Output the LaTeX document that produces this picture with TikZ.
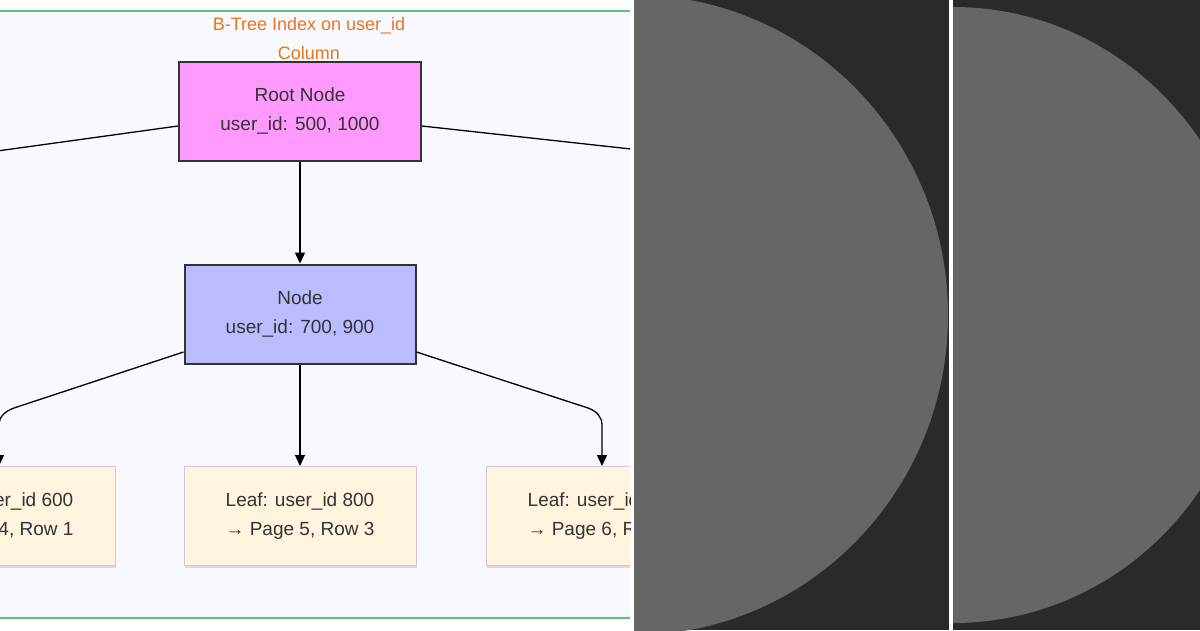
\documentclass[tikz,border=0pt]{standalone}
\usepackage{fontspec}
\setmainfont{Liberation Sans}
\usetikzlibrary{arrows.meta,shadows}
\definecolor{bgl}{HTML}{F8F9FE}
\definecolor{dark}{HTML}{2A2A2A}
\definecolor{disc}{HTML}{666666}
\definecolor{grn}{HTML}{5CC07E}
\definecolor{org}{HTML}{E87520}
\definecolor{txt}{HTML}{333333}
\tikzset{
  box/.style={draw=txt,line width=2pt,minimum width=242pt,minimum height=99pt,align=center,text=txt,font=\fontsize{19}{29}\selectfont},
  leaf/.style={draw={rgb,255:red,215;green,195;blue,228},line width=1pt,fill={rgb,255:red,255;green,244;blue,221},minimum width=232pt,minimum height=99pt,align=center,text=txt,font=\fontsize{19}{29}\selectfont,drop shadow={shadow xshift=1pt,shadow yshift=-2pt,opacity=0.25}},
  edge/.style={line width=1.3pt,-{Triangle[length=11pt,width=10pt]}},
  ln/.style={line width=1.3pt}
}
\begin{document}
\begin{tikzpicture}[x=1pt,y=-1pt]
\useasboundingbox (0,0) rectangle (1200,630);
\fill[white] (0,0) rectangle (1200,630);
\fill[bgl] (0,11) rectangle (630,618);
\fill[dark] (634,0) rectangle (949,630);
\fill[dark] (953,0) rectangle (1200,630);
\begin{scope}
\clip (634,0) rectangle (949,630);
\fill[disc] (634,315) ellipse [x radius=314,y radius=320];
\end{scope}
\begin{scope}
\clip (953,0) rectangle (1200,630);
\fill[disc] (953,315) ellipse [x radius=300,y radius=308];
\end{scope}
\draw[grn,line width=1.5pt] (0,11) -- (630,11);
\draw[grn,line width=1.5pt] (0,618) -- (630,618);
\node[text=org,font=\fontsize{18}{29}\selectfont,align=center] (title) at (309,39) {B-Tree Index on user\_id\\Column};
\begin{scope}
\clip (0,0) rectangle (630,630);
\node[box,fill={rgb,255:red,255;green,153;blue,255}] (root) at (300,111) {Root Node\\user\_id: 500, 1000};
\node[box,fill={rgb,255:red,187;green,187;blue,255},minimum width=231pt] (mid) at (300,314) {Node\\user\_id: 700, 900};
\node[leaf] (l1) at (-1,516) {Leaf: user\_id 600\\→ Page 4, Row 1};
\node[leaf] (l2) at (300,516) {Leaf: user\_id 800\\→ Page 5, Row 3};
\node[leaf] (l3) at (602,516) {Leaf: user\_id 950\\→ Page 6, Row 2};
\coordinate (cl) at (-10,152);
\coordinate (cr) at (640,150);
\draw[ln] (root.west |- 0,126) -- (cl);
\draw[ln] (root.east |- 0,126) -- (cr);
\draw[edge] (root) -- (mid);
\draw[edge] (mid) -- (l2);
\draw[edge] (mid.west |- 0,352) -- (14,408) to[out=-160,in=90] (-1,425) -- (l1.north);
\draw[edge] (mid.east |- 0,352) -- (588,408) to[out=-20,in=90] (602,425) -- (l3.north);
\end{scope}
\end{tikzpicture}
\end{document}
